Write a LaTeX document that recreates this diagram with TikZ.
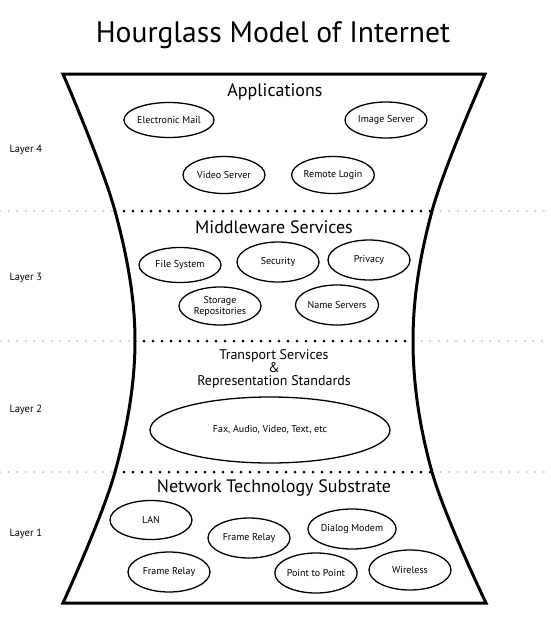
\documentclass[tikz,border=0pt]{standalone}
\usepackage{fontspec}
\setmainfont{PT Sans}
\usetikzlibrary{shapes.geometric}

\tikzset{
  item/.style={ellipse, draw, line width=1.3pt, minimum width=82pt,
    minimum height=38pt, inner sep=0pt, align=center,
    font=\fontsize{10}{11}\selectfont},
  heading/.style={font=\fontsize{18}{20}\selectfont},
  subheading/.style={font=\fontsize{14}{15}\selectfont},
  layerlabel/.style={anchor=west, font=\fontsize{10.5}{12}\selectfont},
  graydots/.style={black!25, line width=2pt, line cap=round, dash pattern=on 0pt off 8.6pt},
  blackdots/.style={black, line width=3pt, line cap=round, dash pattern=on 0pt off 9pt},
}

\begin{document}
\begin{tikzpicture}[x=1pt,y=-1pt]
\useasboundingbox (0,0) rectangle (550,619);

\node (title) at (273,35) {\fontsize{29.6}{32}\selectfont Hourglass Model of Internet};

% outline points
\coordinate (tl) at (63,74);
\coordinate (l4) at (115,211);
\coordinate (l3) at (135,341);
\coordinate (l2) at (115,472);
\coordinate (bl) at (63,603);
\coordinate (tr) at (485,74);
\coordinate (r4) at (432,211);
\coordinate (r3) at (413,341);
\coordinate (r2) at (432,472);
\coordinate (br) at (486,603);

% separators
\foreach \a/\b in {l4/r4, l3/r3, l2/r2} {
  \draw[graydots] (0,0 |- \a) -- (\a);
  \draw[graydots] (\b) -- (550,0 |- \b);
  \draw[blackdots] (\a) -- (\b);
}

% hourglass
\draw[line width=3pt, line join=miter]
  plot[smooth, tension=0.6] coordinates {(bl) (l2) (l3) (l4) (tl)}
  -- plot[smooth, tension=0.6] coordinates {(tr) (r4) (r3) (r2) (br)}
  -- cycle;

% layer labels
\node[layerlabel] (lay4) at (6,150) {Layer 4};
\node[layerlabel] (lay3) at (6,278) {Layer 3};
\node[layerlabel] (lay2) at (6,410) {Layer 2};
\node[layerlabel] (lay1) at (6,534) {Layer 1};

% layer 4
\node[heading] (apps) at (275,92) {Applications};
\node[item, minimum height=35pt] (mail) at (169,120) {Electronic Mail};
\node[item, minimum height=36pt] (image) at (386,120) {Image Server};
\node[item, minimum height=37pt] (video) at (224,175) {Video Server};
\node[item, minimum height=37pt] (login) at (333,175) {Remote Login};

% layer 3
\node[heading] (middle) at (274,227) {Middleware Services};
\node[item, minimum height=35pt] (files) at (180,265) {File System};
\node[item, minimum height=40pt] (secure) at (278,262) {Security};
\node[item, minimum height=40pt] (privacy) at (369,260) {Privacy};
\node[item, minimum height=38pt] (storage) at (220,306) {Storage\\Repositories};
\node[item, minimum height=40pt] (names) at (337,305) {Name Servers};

% layer 2
\node[subheading, align=center] (transport) at (274,369)
  {Transport Services\\[-2pt]\&\\[-2pt]Representation Standards};
\node[item, minimum width=240pt, minimum height=66pt] (media) at (270,430) {Fax, Audio, Video, Text, etc};

% layer 1
\node[heading] (network) at (274,488) {Network Technology Substrate};
\node[item, minimum height=39pt] (lan) at (151,520) {LAN};
\node[item, minimum height=40pt] (relayA) at (249,538) {Frame Relay};
\node[item, minimum height=40pt] (modem) at (352,529) {Dialog Modem};
\node[item, minimum height=40pt] (relayB) at (169,572) {Frame Relay};
\node[item, minimum height=40pt] (p2p) at (316,573) {Point to Point};
\node[item, minimum height=40pt] (wireless) at (410,570) {Wireless};
\end{tikzpicture}
\end{document}
